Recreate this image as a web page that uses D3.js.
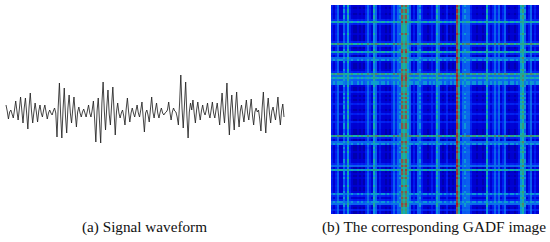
<!DOCTYPE html>
<html><head><meta charset="utf-8">
<script src="https://cdn.jsdelivr.net/npm/d3@7"></script>
<style>html,body{margin:0;padding:0;background:#fff;overflow:hidden}svg{display:block}</style>
</head><body><svg id="c" width="550" height="242"></svg>
<script>
const captions = ["(a) Signal waveform", "(b) The corresponding GADF image"];
// waveform samples (pixel-read amplitude, up positive)
const wave = [8,2,-6,1,3,-1,-5,3,12,2,-7,4,16,3,-10,5,15,0,-16,6,20,2,-10,1,10,1,-9,2,8,0,-4,3,8,1,-6,0,3,0,-2,2,5,0,-24,6,30,-2,-25,4,25,-3,-20,5,18,0,-10,4,16,0,-14,1,6,0,-4,1,4,0,-4,2,8,0,-4,3,12,-6,-29,2,15,-8,-30,10,31,2,-17,6,23,-1,-12,8,26,2,-22,1,10,0,-5,0,3,-3,-12,4,15,1,-9,0,5,0,-4,2,8,0,-4,3,11,-4,-19,0,3,-2,-9,4,16,
 1,-5,3,10,0,-5,1,5,0,-2,0,1,3,11,1,-7,1,5,2,1,-4,-12,10,38,5,-15,8,31,-2,-25,1,10,3,13,0,-10,3,11,1,-7,2,8,1,-2,3,10,0,-5,3,11,0,-5,3,10,-1,-12,5,20,2,-10,9,30,-1,-22,4,18,-2,-17,5,21,0,-14,2,8,-1,-9,3,13,0,-7,4,14,-2,-12,1,5,1,3,-6,-18,5,21,-3,-20,3,15,0,-10,2,6,-1,-7,4,16,-1,-12,2,9,-4];
// heatmap band levels (0-9), left to right and top to bottom
const colLevels = [3,2,3,4,2,2,5,3,6,3,2,1,1,2,1,2,1,3,4,3,2,6,4,2,3,2,2,1,2,1,3,4,3,4,5,8,7,8,6,4,2,3,2,4,5,3,2,2,1,2,3,2,3,6,4,2,1,2,3,1,2,1,2,9,7,3,4,5,4,4,3,2,2,1,2,2,1,2,6,3,2,3,4,3,4,2,3,4,2,1,2,2,1,2,3,6,7,5,2,3,4,2,3,2];
const rowLevels = [2,1,2,2,1,2,2,3,6,3,1,1,1,1,2,1,1,1,3,7,3,1,2,6,3,1,4,5,2,1,1,1,2,3,7,4,6,4,5,5,2,1,1,3,2,1,2,1,2,3,2,2,1,2,3,2,2,1,3,2,2,2,1,1,0,7,3,1,4,5,1,0,1,2,1,1,1,2,2,3,4,1,6,0,2,1,2,1,1,1,2,1,1,2,5,3,2,3,5,4,2,1,3,1];

const svg = d3.select("#c");
const x = d3.scaleLinear().domain([0, wave.length - 1]).range([6, 284]);
const y = d3.scaleLinear().domain([-40, 40]).range([153, 73]);
svg.append("path").attr("d", d3.line().x((d,i)=>x(i)).y(d=>y(d))(wave))
  .attr("fill","none").attr("stroke","#222").attr("stroke-width",0.85).attr("stroke-linejoin","round");

const hx = d3.scaleBand().domain(d3.range(colLevels.length)).range([331,538]);
const hy = d3.scaleBand().domain(d3.range(rowLevels.length)).range([5,213]);
const color = d3.scaleLinear().domain([0,.22,.33,.44,.55,.66,.78,.88,1])
  .range(["#000090","#0000d0","#0018f0","#0a5cf0","#0a90e0","#10b0b0","#30a080","#806050","#a03030"]);
const g = svg.append("g").attr("shape-rendering","crispEdges");
rowLevels.forEach((r,j)=>{
  colLevels.forEach((c,i)=>{
    const a=c/9,b=r/9;
    const mottled=((c>=5&&r%2===1)||(r>=5&&c%2===1))?0.12:0;
    g.append("rect").attr("x",hx(i)).attr("y",hy(j)).attr("width",hx.bandwidth()+.5).attr("height",hy.bandwidth()+.5)
     .attr("fill",color(Math.max(a,b)+0.15*Math.min(a,b)-0.02-mottled));
  });
});

svg.selectAll("text").data(captions).join("text")
  .attr("x",(d,i)=>[82,322][i]).attr("y",232)
  .attr("textLength",(d,i)=>[125,224][i]).attr("lengthAdjust","spacingAndGlyphs")
  .attr("font-family","'Liberation Serif','Times New Roman',serif").attr("font-size",15.5).attr("fill","#111")
  .text(d=>d);
</script></body></html>
